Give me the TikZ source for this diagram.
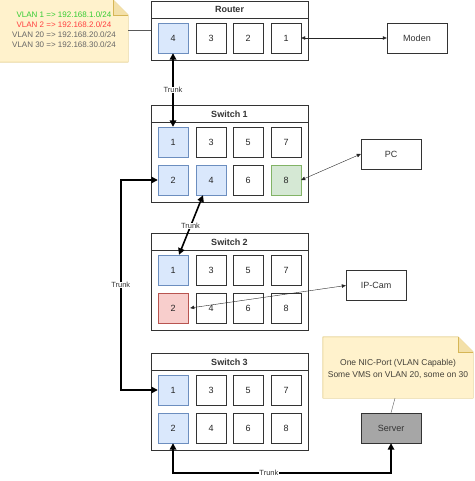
\documentclass[tikz,border=0pt]{standalone}
\usepackage{fontspec}
\setmainfont{Liberation Sans}
\usepackage{xcolor}
\usetikzlibrary{arrows.meta, positioning, calc}

\definecolor{portblue}{HTML}{DAE8FC}
\definecolor{portblueline}{HTML}{6C8EBF}
\definecolor{portgreen}{HTML}{D5E8D4}
\definecolor{portgreenline}{HTML}{82B366}
\definecolor{portred}{HTML}{F8CECC}
\definecolor{portredline}{HTML}{B85450}
\definecolor{notefill}{HTML}{FFF2CC}
\definecolor{noteline}{HTML}{D6B656}
\definecolor{vlangreen}{HTML}{33CC33}
\definecolor{vlanred}{HTML}{FF4040}
\definecolor{vlangray}{HTML}{666666}

\begin{document}
\begin{tikzpicture}[
  x=1pt, y=-1pt,
  font=\fontsize{9}{11}\selectfont,
  device/.style={draw, black!80, text=black!80, minimum width=157pt, inner sep=0pt},
  port/.style={draw, black!80, text=black!85, minimum width=30pt, minimum height=30pt, inner sep=0pt},
  blueport/.style={port, fill=portblue, draw=portblueline},
  greenport/.style={port, fill=portgreen, draw=portgreenline},
  redport/.style={port, fill=portred, draw=portredline},
  endbox/.style={draw, black!80, text=black!80, minimum width=60pt, minimum height=30pt, inner sep=0pt},
  trunk/.style={line width=1.6pt, {Triangle[length=6.5pt,width=6.5pt]}-{Triangle[length=6.5pt,width=6.5pt]}},
  access/.style={thin, black!85, {Triangle[length=4pt,width=3.5pt]}-{Triangle[length=4pt,width=3.5pt]}},
  lbl/.style={fill=white, inner sep=0.5pt, font=\fontsize{7.5}{8}\selectfont, text=black!80},
  note/.style={minimum width=#1, inner sep=0pt, align=center},
]
\useasboundingbox (0,0) rectangle (474,481);

% router and switches
\node[device, minimum height=59pt] (router) at (229.5,30.5) {};
\node[device, minimum height=97pt] (sw1) at (229.5,153.5) {};
\node[device, minimum height=97pt] (sw2) at (229.5,281.5) {};
\node[device, minimum height=97pt] (sw3) at (229.5,401.5) {};
\draw[black!80] ($(router.north west)+(0,17)$) -- ($(router.north east)+(0,17)$);
\node[font=\fontsize{9}{11}\selectfont\bfseries, text=black!80] (routerhead) at (229.5,9.5) {Router};
\foreach \s/\t/\lab in {sw1/105/Switch 1, sw2/233/Switch 2, sw3/353/Switch 3}{
  \draw[black!80] ($(\s.north west)+(0,17)$) -- ($(\s.north east)+(0,17)$);
  \node[font=\fontsize{9}{11}\selectfont\bfseries, text=black!80] (\s head) at (229.5,\t+9) {\lab};
}

% router ports
\node[blueport] (r4) at (173,38) {4};
\node[port] (r3) at (211,38) {3};
\node[port] (r2) at (248,38) {2};
\node[port] (r1) at (286,38) {1};

% switch ports, odd on top row, even below
\foreach \s/\t in {sw1/105, sw2/233, sw3/353}{
  \foreach \n/\x in {1/173, 3/211, 5/248, 7/286}{ \node[port] (\s p\n) at (\x,\t+37) {\n}; }
  \foreach \n/\x in {2/173, 4/211, 6/248, 8/286}{ \node[port] (\s p\n) at (\x,\t+75) {\n}; }
}
% coloured ports drawn again on top
\node[blueport] at (sw1p1) {1};
\node[blueport] at (sw1p2) {2};
\node[blueport] at (sw1p4) {4};
\node[greenport] at (sw1p8) {8};
\node[blueport] at (sw2p1) {1};
\node[redport] at (sw2p2) {2};
\node[blueport] at (sw3p1) {1};
\node[blueport] at (sw3p2) {2};

% end devices
\node[endbox] (moden) at (417,38) {Moden};
\node[endbox] (pc) at (391,154) {PC};
\node[endbox] (ipcam) at (376,285.5) {IP-Cam};
\node[endbox, fill=black!35] (server) at (391,428) {Server};

% notes
\node[note=128pt, minimum height=62pt] (vlannote) at (64,31) {};
\draw[noteline, fill=notefill] (vlannote.north west) -- ($(vlannote.north east)+(-15,0)$)
  -- ($(vlannote.north east)+(0,15)$) -- (vlannote.south east) -- (vlannote.south west) -- cycle;
\draw[noteline, fill=notefill!70!noteline] ($(vlannote.north east)+(-15,0)$) -- ($(vlannote.north east)+(-15,15)$)
  -- ($(vlannote.north east)+(0,15)$);
\node[align=center, font=\fontsize{8}{10}\selectfont] (vlantext) at (64,30)
  {\textcolor{vlangreen}{VLAN 1 => 192.168.1.0/24}\\
   \textcolor{vlanred}{VLAN 2 => 192.168.2.0/24}\\
   \textcolor{vlangray}{VLAN 20 => 192.168.20.0/24}\\
   \textcolor{vlangray}{VLAN 30 => 192.168.30.0/24}};

\node[note=150pt, minimum height=61pt] (servernote) at (398,367.5) {};
\draw[noteline, fill=notefill] (servernote.north west) -- ($(servernote.north east)+(-15,0)$)
  -- ($(servernote.north east)+(0,15)$) -- (servernote.south east) -- (servernote.south west) -- cycle;
\draw[noteline, fill=notefill!70!noteline] ($(servernote.north east)+(-15,0)$) -- ($(servernote.north east)+(-15,15)$)
  -- ($(servernote.north east)+(0,15)$);
\node[align=center, font=\fontsize{8.5}{12.5}\selectfont, text=black!75!yellow!60!black] (servertext) at (398,369)
  {One NIC-Port (VLAN Capable)\\ Some VMS on VLAN 20, some on 30};

% note links
\draw[black!65] (vlannote.east |- router.west) -- (router.west);
\draw[black!65] ($(servernote.south)+(-3,0)$) -- (server.north);

% trunks
\draw[trunk] (r4.south) -- node[lbl] (t1) {Trunk} (sw1p1.north);
\draw[trunk] ($(sw1p4.south)+(-8,0)$) -- node[lbl, pos=0.52] (t2) {Trunk} ($(sw2p1.north)+(6,0)$);
\draw[trunk] (sw1p2.west) -- ++(-37,0) |- node[lbl, pos=0.25] (t3) {Trunk} (sw3p1.west);
\draw[trunk] (sw3p2.south) |- node[lbl, pos=0.72] (t4) {Trunk} ($(server.south)+(0,30)$) -- (server.south);

% access links
\draw[access] (r1.east) -- (moden.west);
\draw[access] (sw1p8.east) -- (pc.west);
\draw[access] ($(sw2p2.east)+(2,0)$) -- (ipcam.west);
\end{tikzpicture}
\end{document}
